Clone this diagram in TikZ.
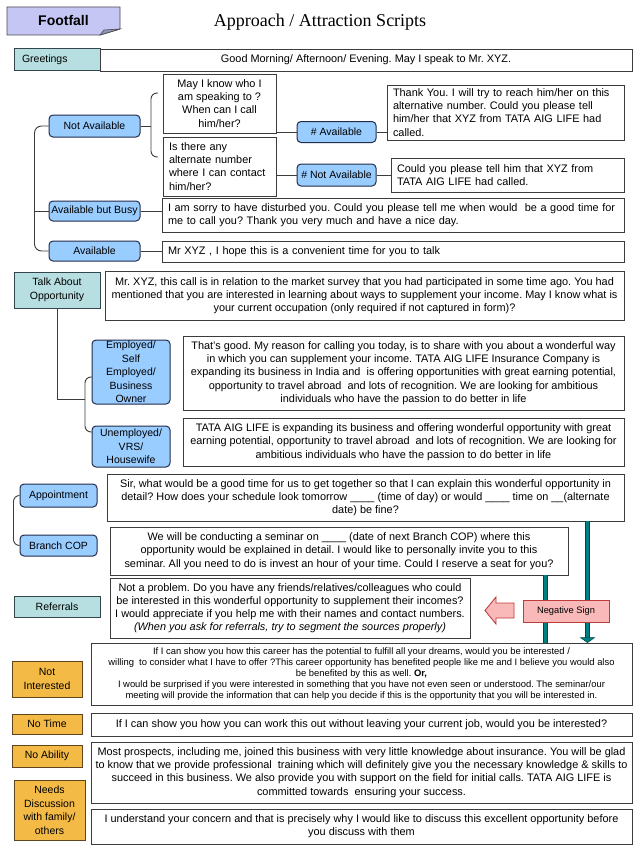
\documentclass[tikz,border=0pt]{standalone}
\usepackage{fontspec}
\setmainfont{Liberation Sans}
\newfontfamily\titlefont{Liberation Serif}
\usetikzlibrary{calc}
\frenchspacing
\definecolor{tealfill}{RGB}{183,222,224}
\definecolor{tealborder}{RGB}{50,70,75}
\definecolor{bluefill}{RGB}{153,204,255}
\definecolor{blueborder}{RGB}{35,45,75}
\definecolor{orangefill}{RGB}{244,186,70}
\definecolor{orangeborder}{RGB}{95,70,30}
\definecolor{lavfill}{RGB}{198,198,245}
\definecolor{pinkfill}{RGB}{250,185,185}
\definecolor{pinkborder}{RGB}{190,60,60}
\definecolor{tealbar}{RGB}{0,128,128}
\definecolor{barborder}{RGB}{0,70,70}
\definecolor{boxborder}{RGB}{60,60,60}
\definecolor{linecol}{RGB}{60,60,60}
\newcommand\mainsz{\fontsize{10.9}{13.2}\selectfont}
\newcommand\smallsz{\fontsize{9.4}{11}\selectfont}
\newcommand\lblsz{\fontsize{10.5}{13.5}\selectfont}
\begin{document}
\begin{tikzpicture}[x=1pt,y=-1pt,
  conn/.style={draw=linecol, line width=0.9pt},
  txtbox/.style={draw=boxborder, line width=0.9pt, fill=white, inner sep=0pt, align=center, font=\mainsz},
  ltxt/.style={txtbox, align=left, inner xsep=6pt, inner ysep=0pt, text width=#1},
  teallbl/.style={draw=tealborder, fill=tealfill, line width=1pt, inner sep=0pt, align=center, font=\lblsz},
  bluelbl/.style={draw=blueborder, fill=bluefill, line width=1pt, rounded corners=4pt, inner sep=0pt, align=center, font=\lblsz},
  orangelbl/.style={draw=orangeborder, fill=orangefill, line width=1pt, inner sep=0pt, align=center, font=\lblsz},
  pinkbox/.style={draw=pinkborder, fill=pinkfill, line width=0.9pt, inner sep=0pt, align=center, font=\fontsize{9.3}{11}\selectfont},
  bar/.style={draw=barborder, line width=0.7pt, double=tealbar, double distance=3.6pt},
  barhead/.style={draw=barborder, fill=tealbar, line width=0.6pt}
]
\useasboundingbox (0,0) rectangle (638,851);
\fill[white] (0,0) rectangle (638,851);

% Footfall tag with folded corner
\draw[fill=lavfill, draw=black!70, line width=0.9pt] (7,7) -- (120,7) -- (120,29) -- (100,35) -- (7,35) -- cycle;
\draw[fill=lavfill!75!black, draw=black!70, line width=0.6pt] (100,35) -- (104,30) -- (120,29) -- cycle;
\node[inner sep=0pt, font=\bfseries\fontsize{14}{16}\selectfont] (footfall) at (63.5,20) {Footfall};
\node[inner sep=0pt, font=\titlefont\fontsize{18}{20}\selectfont] (title) at (320,22) {Approach / Attraction Scripts};

% Greetings
\node[teallbl, align=left, text width=70pt, inner xsep=8pt, minimum height=22pt] (greet) at (57,60) {Greetings};
\node[txtbox, minimum width=532pt, minimum height=22pt] (greettxt) at (366,60) {Good Morning/ Afternoon/ Evening. May I speak to Mr. XYZ.};

\node[txtbox, minimum width=113pt, minimum height=59pt] (q1) at (219.5,103.5) {May I know who I\\am speaking to ?\\When can I call\\him/her?};
\node[ltxt=101pt, minimum height=59pt] (q2) at (219.5,166.5) {Is there any\\alternate number\\where I can contact\\him/her?};
\node[bluelbl, minimum width=91pt, minimum height=22pt] (notavail) at (94.5,126) {Not Available};
\node[bluelbl, minimum width=79pt, minimum height=21pt] (avail1) at (336.5,132) {\# Available};
\node[ltxt=225pt, minimum height=55pt] (thank) at (505.5,112.5) {Thank You. I will try to reach him/her on this\\alternative number. Could you please tell\\him/her that XYZ from TATA AIG LIFE had\\called.};
\node[bluelbl, minimum width=79pt, minimum height=22pt] (navail) at (336.5,175) {\# Not Available};
\node[ltxt=221pt, minimum height=34pt] (could) at (507.5,175) {Could you please tell him that XYZ from\\TATA AIG LIFE had called.};
\node[bluelbl, minimum width=91pt, minimum height=20pt] (busy) at (94.5,211) {Available but Busy};
\node[ltxt=450pt, minimum height=34pt] (sorry) at (393,215) {I am sorry to have disturbed you. Could you please tell me when would\ \ be a good time for\\me to call you? Thank you very much and have a nice day.};
\node[bluelbl, minimum width=91pt, minimum height=20pt] (available) at (94.5,251) {Available};
\node[ltxt=450pt, minimum height=21pt] (mrxyz) at (393,251.5) {Mr XYZ , I hope this is a convenient time for you to talk};

% Talk about opportunity
\node[teallbl, minimum width=86pt, minimum height=36pt] (talk) at (57,290) {Talk About\\Opportunity};
\node[txtbox, minimum width=519pt, minimum height=49pt] (talktxt) at (364.5,295.5) {Mr. XYZ, this call is in relation to the market survey that you had participated in some time ago. You had\\mentioned that you are interested in learning about ways to supplement your income. May I know what is\\your current occupation (only required if not captured in form)?};
\node[bluelbl, minimum width=78pt, minimum height=64pt] (employed) at (131,372) {Employed/\\Self\\Employed/\\Business\\Owner};
\node[txtbox, minimum width=441pt, minimum height=74pt] (emptxt) at (403.5,373) {That’s good. My reason for calling you today, is to share with you about a wonderful way\\in which you can supplement your income. TATA AIG LIFE Insurance Company is\\expanding its business in India and\ \ is offering opportunities with great earning potential,\\opportunity to travel abroad\ \ and lots of recognition. We are looking for ambitious\\individuals who have the passion to do better in life};
\node[bluelbl, minimum width=78pt, minimum height=41pt] (unemp) at (131,446.5) {Unemployed/\\VRS/\\Housewife};
\node[txtbox, minimum width=441pt, minimum height=48pt] (unemptxt) at (403.5,442) {TATA AIG LIFE is expanding its business and offering wonderful opportunity with great\\earning potential, opportunity to travel abroad\ \ and lots of recognition. We are looking for\\ambitious individuals who have the passion to do better in life};

% Appointment / Branch COP
\node[bluelbl, minimum width=77pt, minimum height=23pt] (appt) at (58.5,495.5) {Appointment};
\node[txtbox, minimum width=517pt, minimum height=47pt] (appttxt) at (365.5,497.5) {Sir, what would be a good time for us to get together so that I can explain this wonderful opportunity in\\detail? How does your schedule look tomorrow \_\_\_\_ (time of day) or would \_\_\_\_ time on \_\_(alternate\\date) be fine?};
\node[bluelbl, minimum width=77pt, minimum height=21pt] (branch) at (58.5,545.5) {Branch COP};
\node[txtbox, minimum width=458pt, minimum height=48pt] (branchtxt) at (339,551) {We will be conducting a seminar on \_\_\_\_ (date of next Branch COP) where this\\opportunity would be explained in detail. I would like to personally invite you to this\\seminar. All you need to do is invest an hour of your time. Could I reserve a seat for you?};

% Referrals
\node[teallbl, minimum width=86pt, minimum height=21pt] (referrals) at (57,606.5) {Referrals};
\node[txtbox, minimum width=360pt, minimum height=60pt] (reftxt) at (290,608) {Not a problem. Do you have any friends/relatives/colleagues who could\\be interested in this wonderful opportunity to supplement their incomes?\\I would appreciate if you help me with their names and contact numbers.\\\textit{(When you ask for referrals, try to segment the sources properly)}};

% Objections
\node[orangelbl, minimum width=70pt, minimum height=36pt] (notint) at (47,679) {Not\\Interested};
\node[txtbox, font=\smallsz, minimum width=541pt, minimum height=62pt] (notinttxt) at (361.5,674) {If I can show you how this career has the potential to fulfill all your dreams, would you be interested /\\willing\ \ to consider what I have to offer ?This career opportunity has benefited people like me and I believe you would also\\be benefited by this as well. \textbf{Or,}\\I would be surprised if you were interested in something that you have not even seen or understood. The seminar/our\\meeting will provide the information that can help you decide if this is the opportunity that you will be interested in.};
\node[orangelbl, minimum width=70pt, minimum height=20pt] (notime) at (47,724) {No Time};
\node[txtbox, minimum width=541pt, minimum height=23pt] (notimetxt) at (361.5,724.5) {If I can show you how you can work this out without leaving your current job, would you be interested?};
\node[orangelbl, minimum width=70pt, minimum height=22pt] (noability) at (47,756) {No Ability};
\node[txtbox, minimum width=541pt, minimum height=61pt] (noabtxt) at (361.5,772.5) {Most prospects, including me, joined this business with very little knowledge about insurance. You will be glad\\to know that we provide professional\ \ training which will definitely give you the necessary knowledge \& skills to\\succeed in this business. We also provide you with support on the field for initial calls. TATA AIG LIFE is\\committed towards\ \ ensuring your success.};
\node[orangelbl, minimum width=71pt, minimum height=60pt] (needs) at (49.5,810) {Needs\\Discussion\\with family/\\others};
\node[txtbox, minimum width=541pt, minimum height=35pt] (needstxt) at (361.5,826.5) {I understand your concern and that is precisely why I would like to discuss this excellent opportunity before\\you discuss with them};

% Connectors, upper section
\coordinate (bk1) at (151,126);
\coordinate (bk1t) at (158,93);
\coordinate (bk1b) at (158,157);
\draw[conn] (notavail.east) -- (bk1);
\draw[conn, rounded corners=6pt] (bk1t) -| (bk1) |- (bk1b);
\draw[conn] (q1.east |- avail1.west) -- (avail1.west);
\draw[conn] (avail1.east) -- (thank.west |- avail1.east);
\draw[conn] (q2.east |- navail.west) -- (navail.west);
\draw[conn] (navail.east) -- (could.west |- navail.east);
\draw[conn, rounded corners=7pt] (notavail.west) -- ++(-14,0) |- (available.west);
\draw[conn] (busy.west) -- ++(-14,0);
\draw[conn] (busy.east) -- (sorry.west |- busy.east);
\draw[conn] (available.east) -- (mrxyz.west |- available.east);

% Talk about opportunity connectors
\coordinate (bk2) at (85,399);
\coordinate (bk2t) at (92,377);
\coordinate (bk2b) at (92,432);
\draw[conn] (talk.south) |- (bk2);
\draw[conn, rounded corners=6pt] (bk2t) -| (bk2) |- (bk2b);

% Appointment bracket
\draw[conn, rounded corners=6pt] (appt.west) -- ++(-6,0) |- (branch.west);

% Teal bars
\coordinate (barL) at (545.5,0);
\coordinate (barR) at (587.5,0);
\draw[bar] (barL |- branchtxt.south) -- (barL |- notinttxt.north);
\draw[bar] (barR |- appttxt.south) -- ($(barR |- notinttxt.north)+(0,-4)$);
\draw[barhead] ($(barR |- notinttxt.north)+(-7,-5)$) -- ($(barR |- notinttxt.north)+(7,-5)$) -- ($(barR |- notinttxt.north)+(0,0)$) -- cycle;

% Negative sign and arrow
\draw[draw=pinkborder, fill=pinkfill, line width=0.9pt] (514,603) -- (496,603) -- (496,597) -- (485,610.5) -- (496,624) -- (496,618) -- (514,618) -- cycle;
\node[pinkbox, minimum width=86pt, minimum height=22pt] (negative) at (566,611) {Negative Sign};
\end{tikzpicture}
\end{document}
